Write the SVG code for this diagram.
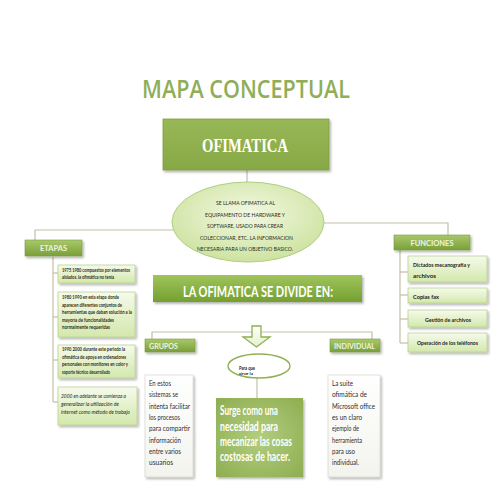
<svg xmlns="http://www.w3.org/2000/svg" width="495" height="495" viewBox="0 0 495 495">
<style>
.cn{fill:none;stroke:#c3bfa6;stroke-width:1.2}
.hd{fill:url(#gHead);stroke:#7d9c45;stroke-width:0.6;filter:url(#sh)}
.hdt{font-family:Lato,"Open Sans",sans-serif;font-weight:bold;fill:#eef3e2;font-size:7.5px}
.sb{fill:url(#gSub);stroke:#b3cd88;stroke-width:0.7;filter:url(#sh)}
.sbt{font-family:Lato,"Liberation Sans",sans-serif;font-weight:bold;fill:#2a2a20;font-size:5px}
.sbi{font-family:Lato,"Liberation Sans",sans-serif;font-style:italic;fill:#2a2a20;font-size:6px}
.ft{font-family:Lato,"Liberation Sans",sans-serif;font-weight:bold;fill:#1e1e14;font-size:6px}
.wb{fill:url(#gWhite);stroke:#cfcfc4;stroke-width:0.6;filter:url(#sh)}
.wt{font-family:Lato,"Liberation Sans",sans-serif;fill:#2e2e2e;font-size:7.5px}
.et{font-family:Lato,"Liberation Sans",sans-serif;fill:#2a2a1a;font-size:6.3px}
</style>
<defs>
<filter id="sh" x="-20%" y="-20%" width="150%" height="150%"><feDropShadow dx="1.5" dy="1.8" stdDeviation="1.1" flood-color="#000" flood-opacity="0.3"/></filter>
<linearGradient id="gHead" x1="0" y1="0" x2="0" y2="1"><stop offset="0" stop-color="#a8c96a"/><stop offset="1" stop-color="#7a9f38"/></linearGradient>
<linearGradient id="gMain" x1="0" y1="0" x2="0" y2="1"><stop offset="0" stop-color="#98b857"/><stop offset="1" stop-color="#87a846"/></linearGradient>
<linearGradient id="gDiv" x1="0" y1="0" x2="0" y2="1"><stop offset="0" stop-color="#9fc45c"/><stop offset="1" stop-color="#74a031"/></linearGradient>
<linearGradient id="gSub" x1="0" y1="0" x2="0" y2="1"><stop offset="0" stop-color="#f6faec"/><stop offset="1" stop-color="#d3e8ac"/></linearGradient>
<linearGradient id="gWhite" x1="0" y1="0" x2="0" y2="1"><stop offset="0" stop-color="#ffffff"/><stop offset="1" stop-color="#f3f3ee"/></linearGradient>
<radialGradient id="gEll" cx="0.5" cy="0.4" r="0.6"><stop offset="0" stop-color="#f2f8e2"/><stop offset="1" stop-color="#cde3a0"/></radialGradient>
<radialGradient id="gBig" cx="0.5" cy="0.5" r="0.7"><stop offset="0" stop-color="#b3cd80"/><stop offset="1" stop-color="#8eae50"/></radialGradient>
<linearGradient id="gArr" x1="0" y1="0" x2="0" y2="1"><stop offset="0" stop-color="#ffffff"/><stop offset="1" stop-color="#e4f0cc"/></linearGradient>
</defs>
<rect width="495" height="495" fill="#ffffff"/>

<g id="title">
<text x="142" y="98" textLength="208" lengthAdjust="spacingAndGlyphs" font-family="'Open Sans',Lato,sans-serif" font-weight="600" font-size="25" fill="#8fae58">MAPA CONCEPTUAL</text>
</g>

<g id="connectors">
<line class="cn" x1="247" y1="170" x2="247" y2="183"/>
<polyline class="cn" points="175,230 35,230 35,241"/>
<polyline class="cn" points="322,223 448,223 448,235"/>
<line class="cn" x1="53" y1="257" x2="53" y2="402"/>
<line class="cn" x1="53" y1="273" x2="58" y2="273"/>
<line class="cn" x1="53" y1="317" x2="58" y2="317"/>
<line class="cn" x1="53" y1="360" x2="58" y2="360"/>
<line class="cn" x1="53" y1="402" x2="58" y2="402"/>
<line class="cn" x1="400" y1="250" x2="400" y2="343"/>
<line class="cn" x1="400" y1="272" x2="408" y2="272"/>
<line class="cn" x1="400" y1="295" x2="408" y2="295"/>
<line class="cn" x1="400" y1="319" x2="408" y2="319"/>
<line class="cn" x1="400" y1="343" x2="408" y2="343"/>
<polyline class="cn" points="152,340 152,332 372,332 372,340"/>
<line class="cn" x1="257" y1="378" x2="257" y2="398"/>
</g>

<g id="ofimatica">
<rect x="163" y="119" width="166" height="51" fill="url(#gMain)" stroke="#7f9f40" stroke-width="0.8" filter="url(#sh)"/>
<text x="202" y="152" textLength="86" lengthAdjust="spacingAndGlyphs" font-family="'Liberation Serif',serif" font-weight="bold" font-size="18" fill="#ffffff">OFIMATICA</text>
</g>

<g id="definicion">
<ellipse cx="248" cy="222" rx="76" ry="40" fill="url(#gEll)" stroke="#b2cd84" stroke-width="1"/>
<text class="et" x="216" y="205" textLength="59" lengthAdjust="spacingAndGlyphs">SE LLAMA OFIMATICA AL</text>
<text class="et" x="205" y="216.5" textLength="80" lengthAdjust="spacingAndGlyphs">EQUIPAMENTO DE HARDWARE Y</text>
<text class="et" x="207" y="228" textLength="76" lengthAdjust="spacingAndGlyphs">SOFTWARE, USADO PARA CREAR</text>
<text class="et" x="200" y="239.5" textLength="93" lengthAdjust="spacingAndGlyphs">COLECCIONAR, ETC. LA  INFORMACION</text>
<text class="et" x="197" y="251" textLength="96" lengthAdjust="spacingAndGlyphs">NECESARIA PARA UN OBJETIVO BASICO.</text>
</g>

<g id="etapas">
<rect class="hd" x="25" y="240" width="57" height="16"/>
<text class="hdt" x="53.5" y="251" text-anchor="middle">ETAPAS</text>
</g>

<g id="etapa1">
<rect class="sb" x="58" y="265" width="77" height="18"/>
<text class="sbt" x="62" y="272" textLength="68" lengthAdjust="spacingAndGlyphs">1975 1980 compuestos por elementos</text>
<text class="sbt" x="62" y="279" textLength="52" lengthAdjust="spacingAndGlyphs">aislados. la ofimática no tenía</text>
</g>
<g id="etapa2">
<rect class="sb" x="58" y="292" width="77" height="45"/>
<text class="sbt" x="62" y="299" textLength="57" lengthAdjust="spacingAndGlyphs">1980 1990 en esta etapa donde</text>
<text class="sbt" x="62" y="306.5" textLength="60" lengthAdjust="spacingAndGlyphs">aparecen diferentes conjuntos de</text>
<text class="sbt" x="62" y="314" textLength="70" lengthAdjust="spacingAndGlyphs">herramientas que daban solución a la</text>
<text class="sbt" x="62" y="321.5" textLength="52" lengthAdjust="spacingAndGlyphs">mayoría de funcionalidades</text>
<text class="sbt" x="62" y="329" textLength="48" lengthAdjust="spacingAndGlyphs">normalmente requeridas</text>
</g>
<g id="etapa3">
<rect class="sb" x="58" y="345" width="77" height="33"/>
<text class="sbt" x="62" y="351" textLength="63" lengthAdjust="spacingAndGlyphs">1990 2000 durante este periodo la</text>
<text class="sbt" x="62" y="358.5" textLength="64" lengthAdjust="spacingAndGlyphs">ofimática de apoya en ordenadores</text>
<text class="sbt" x="62" y="366" textLength="66" lengthAdjust="spacingAndGlyphs">personales con monitores en color y</text>
<text class="sbt" x="62" y="373.5" textLength="48" lengthAdjust="spacingAndGlyphs">soporte técnico desarrollado</text>
</g>
<g id="etapa4">
<rect class="sb" x="58" y="387" width="79" height="38"/>
<text class="sbi" x="61" y="398" textLength="65" lengthAdjust="spacingAndGlyphs">2000 en adelante se comienza a</text>
<text class="sbi" x="61" y="406" textLength="58" lengthAdjust="spacingAndGlyphs">generalizar la utilización de</text>
<text class="sbi" x="61" y="414" textLength="69" lengthAdjust="spacingAndGlyphs">internet como método de trabajo</text>
</g>

<g id="funciones">
<rect class="hd" x="394" y="235" width="76" height="15"/>
<text class="hdt" x="432" y="245.5" text-anchor="middle">FUNCIONES</text>
</g>
<g id="funcion1">
<rect class="sb" x="408" y="256" width="79" height="26"/>
<text class="ft" x="413" y="267" textLength="57" lengthAdjust="spacingAndGlyphs">Dictados mecanografía y</text>
<text class="ft" x="413" y="277.5" textLength="23" lengthAdjust="spacingAndGlyphs">archivos</text>
</g>
<g id="funcion2">
<rect class="sb" x="408" y="288" width="79" height="15"/>
<text class="ft" x="413" y="298.5" font-size="6.8" textLength="26" lengthAdjust="spacingAndGlyphs">Copias  fax</text>
</g>
<g id="funcion3">
<rect class="sb" x="408" y="310" width="79" height="17"/>
<text class="ft" x="425" y="321.5" textLength="46" lengthAdjust="spacingAndGlyphs">Gestión de archivos</text>
</g>
<g id="funcion4">
<rect class="sb" x="408" y="333" width="79" height="19"/>
<text class="ft" x="417" y="345" textLength="61" lengthAdjust="spacingAndGlyphs">Operación de los teléfonos</text>
</g>

<g id="divide">
<rect x="153" y="275" width="209" height="27" fill="url(#gDiv)" filter="url(#sh)"/>
<text x="183" y="296.5" textLength="150" lengthAdjust="spacingAndGlyphs" font-family="Lato,'Open Sans',sans-serif" font-weight="bold" font-size="15.5" fill="#ffffff">LA OFIMATICA SE DIVIDE EN:</text>
</g>

<g id="flecha">
<path d="M252,326 H261 V337 H270 L256.5,347 L243,337 H252 Z" fill="url(#gArr)" stroke="#8db04f" stroke-width="1.3" stroke-linejoin="miter"/>
</g>

<g id="grupos">
<rect class="hd" x="145" y="339" width="50" height="13"/>
<text class="hdt" x="149" y="348.5" font-size="6.5" font-weight="normal" textLength="29" lengthAdjust="spacingAndGlyphs">GRUPOS</text>
</g>
<g id="individual">
<rect class="hd" x="330" y="339" width="50" height="13"/>
<text class="hdt" x="334" y="348.5" font-size="6.5" font-weight="normal" textLength="41" lengthAdjust="spacingAndGlyphs">INDIVIDUAL</text>
</g>

<g id="grupos-texto">
<rect class="wb" x="145" y="375" width="48" height="102"/>
<text class="wt" x="149" y="386" textLength="22" lengthAdjust="spacingAndGlyphs">En estos</text>
<text class="wt" x="149" y="397.3" textLength="29" lengthAdjust="spacingAndGlyphs">sistemas se</text>
<text class="wt" x="149" y="408.6" textLength="41" lengthAdjust="spacingAndGlyphs">intenta facilitar</text>
<text class="wt" x="149" y="419.9" textLength="31" lengthAdjust="spacingAndGlyphs">los procesos</text>
<text class="wt" x="149" y="431.2" textLength="41" lengthAdjust="spacingAndGlyphs">para compartir</text>
<text class="wt" x="149" y="442.5" textLength="32" lengthAdjust="spacingAndGlyphs">información</text>
<text class="wt" x="149" y="453.8" textLength="32" lengthAdjust="spacingAndGlyphs">entre varios</text>
<text class="wt" x="149" y="465.1" textLength="24" lengthAdjust="spacingAndGlyphs">usuarios</text>
</g>

<g id="individual-texto">
<rect class="wb" x="328" y="375" width="52" height="102"/>
<text class="wt" x="332" y="386" textLength="21" lengthAdjust="spacingAndGlyphs">La suite</text>
<text class="wt" x="332" y="397.3" textLength="35" lengthAdjust="spacingAndGlyphs">ofimática de</text>
<text class="wt" x="332" y="408.6" textLength="43" lengthAdjust="spacingAndGlyphs">Microsoft office</text>
<text class="wt" x="332" y="419.9" textLength="30" lengthAdjust="spacingAndGlyphs">es un claro</text>
<text class="wt" x="332" y="431.2" textLength="27" lengthAdjust="spacingAndGlyphs">ejemplo de</text>
<text class="wt" x="332" y="442.5" textLength="30" lengthAdjust="spacingAndGlyphs">herramienta</text>
<text class="wt" x="332" y="453.8" textLength="23" lengthAdjust="spacingAndGlyphs">para uso</text>
<text class="wt" x="332" y="465.1" textLength="27" lengthAdjust="spacingAndGlyphs">individual.</text>
</g>

<g id="para-que">
<ellipse cx="259" cy="366" rx="31" ry="12" fill="#ffffff" stroke="#8fb055" stroke-width="1.4"/>
<text x="239" y="369.5" textLength="16" lengthAdjust="spacingAndGlyphs" font-family="Lato,'Liberation Sans',sans-serif" font-weight="bold" font-size="5" fill="#222">Para que</text>
<text x="239" y="375" textLength="14" lengthAdjust="spacingAndGlyphs" font-family="Lato,'Liberation Sans',sans-serif" font-weight="bold" font-size="3.5" fill="#222">sirve la</text>
</g>

<g id="surge">
<rect x="216" y="398" width="87" height="79" fill="url(#gBig)" filter="url(#sh)"/>
<text x="220" y="415" textLength="58" lengthAdjust="spacingAndGlyphs" font-family="Lato,'Open Sans',sans-serif" font-weight="bold" font-size="12.5" fill="#ffffff">Surge como una</text>
<text x="220" y="431" textLength="58" lengthAdjust="spacingAndGlyphs" font-family="Lato,'Open Sans',sans-serif" font-weight="bold" font-size="12.5" fill="#ffffff">necesidad para</text>
<text x="220" y="446" textLength="72" lengthAdjust="spacingAndGlyphs" font-family="Lato,'Open Sans',sans-serif" font-weight="bold" font-size="12.5" fill="#ffffff">mecanizar las cosas</text>
<text x="220" y="461" textLength="70" lengthAdjust="spacingAndGlyphs" font-family="Lato,'Open Sans',sans-serif" font-weight="bold" font-size="12.5" fill="#ffffff">costosas de hacer.</text>
</g>
</svg>
